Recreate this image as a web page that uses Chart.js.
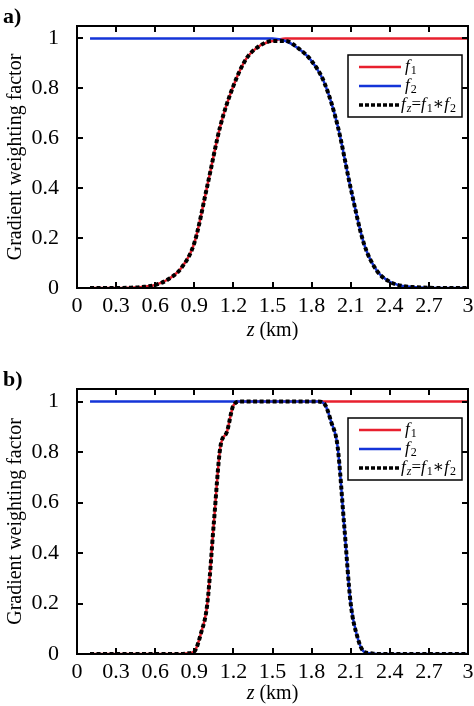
<!DOCTYPE html>
<html>
<head>
<meta charset="utf-8">
<script src="https://cdn.jsdelivr.net/npm/chart.js@4.4.1/dist/chart.umd.min.js"></script>
<style>
  html, body { margin: 0; padding: 0; background: #fff; }
  body { width: 474px; height: 706px; position: relative; overflow: hidden; }
  .panel { position: absolute; left: 0; width: 474px; }
  #panel-a { top: 0; height: 340px; }
  #panel-b { top: 363px; height: 343px; }
</style>
</head>
<body>
<div class="panel" id="panel-a"><canvas id="chart-a" width="474" height="340"></canvas></div>
<div class="panel" id="panel-b"><canvas id="chart-b" width="474" height="343"></canvas></div>
<script>
////////////////////////////////////////////////////////////////////////////////
// Data
////////////////////////////////////////////////////////////////////////////////

const xTicks = [0, 0.3, 0.6, 0.9, 1.2, 1.5, 1.8, 2.1, 2.4, 2.7, 3];
const yTicks = [0, 0.2, 0.4, 0.6, 0.8, 1];

// panel a) - smooth taper
const zA  = [0.1, 0.2, 0.3, 0.4, 0.5, 0.6, 0.7, 0.8, 0.9, 1.0, 1.1, 1.2, 1.3, 1.4, 1.5,
             1.6, 1.7, 1.8, 1.9, 2.0, 2.1, 2.2, 2.3, 2.4, 2.5, 2.6, 2.7, 2.8, 2.9, 3.0];
const f1A = [0, 0, 0, 0.001, 0.004, 0.012, 0.035, 0.08, 0.18, 0.41, 0.65, 0.81, 0.92, 0.97, 0.99,
             1, 1, 1, 1, 1, 1, 1, 1, 1, 1, 1, 1, 1, 1, 1];
const f2A = [1, 1, 1, 1, 1, 1, 1, 1, 1, 1, 1, 1, 1, 1, 1,
             0.99, 0.96, 0.91, 0.82, 0.65, 0.40, 0.18, 0.07, 0.025, 0.008, 0.003, 0.001, 0, 0, 0];
const fzA = [0, 0, 0, 0.001, 0.004, 0.012, 0.035, 0.08, 0.18, 0.41, 0.65, 0.81, 0.92, 0.97, 0.99,
             0.99, 0.96, 0.91, 0.82, 0.65, 0.40, 0.18, 0.07, 0.025, 0.008, 0.003, 0.001, 0, 0, 0];

// panel b) - sharp taper
const zB  = [0.1, 0.2, 0.3, 0.4, 0.5, 0.6, 0.7, 0.8,
             0.85, 0.9, 0.95, 1.0, 1.05, 1.1, 1.15, 1.2, 1.25, 1.3,
             1.4, 1.5, 1.6, 1.7, 1.8,
             1.85, 1.9, 1.95, 2.0, 2.05, 2.1, 2.15, 2.2, 2.25, 2.3,
             2.4, 2.5, 2.6, 2.7, 2.8, 2.9, 3.0];
const f1B = [0, 0, 0, 0, 0, 0, 0, 0,
             0.003, 0.01, 0.08, 0.2, 0.52, 0.82, 0.88, 0.985, 1, 1,
             1, 1, 1, 1, 1,
             1, 1, 1, 1, 1, 1, 1, 1, 1, 1,
             1, 1, 1, 1, 1, 1, 1];
const f2B = [1, 1, 1, 1, 1, 1, 1, 1,
             1, 1, 1, 1, 1, 1, 1, 1, 1, 1,
             1, 1, 1, 1, 1,
             1, 0.99, 0.92, 0.82, 0.51, 0.2, 0.07, 0.01, 0.003, 0,
             0, 0, 0, 0, 0, 0, 0];
const fzB = [0, 0, 0, 0, 0, 0, 0, 0,
             0.003, 0.01, 0.08, 0.2, 0.52, 0.82, 0.88, 0.985, 1, 1,
             1, 1, 1, 1, 1,
             1, 0.99, 0.92, 0.82, 0.51, 0.2, 0.07, 0.01, 0.003, 0,
             0, 0, 0, 0, 0, 0, 0];

////////////////////////////////////////////////////////////////////////////////
// Styling helpers
////////////////////////////////////////////////////////////////////////////////

const SERIF = '"Liberation Serif", "DejaVu Serif", serif';
const RED = '#e8202e';
const BLUE = '#1434d8';

function fmt(v) {
    return String(Math.round(v * 10) / 10);
}

// draw a run of text pieces: {t, it (italic), sub (subscript)}
function drawPieces(ctx, pieces, x, y) {
    let cx = x;
    pieces.forEach(p => {
        const size = p.sub ? 12 : 17;
        ctx.font = (p.it ? 'italic ' : '') + size + 'px ' + SERIF;
        const dy = p.sub ? 4 : 0;
        ctx.fillText(p.t, cx, y + dy);
        cx += ctx.measureText(p.t).width + (p.gap || 0);
    });
}

const legendItems = [
    { color: RED,    width: 2.5, dash: [],     pieces: [{t: 'f', it: true, gap: 1}, {t: '1', sub: true}] },
    { color: BLUE,   width: 2.5, dash: [],     pieces: [{t: 'f', it: true, gap: 1}, {t: '2', sub: true}] },
    { color: '#000', width: 3.5, dash: [4, 2], pieces: [
        {t: 'f', it: true, gap: 1}, {t: 'z', sub: true, it: true}, {t: '='},
        {t: 'f', it: true, gap: 1}, {t: '1', sub: true}, {t: '\u2217'},
        {t: 'f', it: true, gap: 1}, {t: '2', sub: true}] }
];

// frame, inward ticks, axis titles, panel letter and legend
const framePlugin = {
    id: 'frame',
    afterDraw(chart, args, opts) {
        const ctx = chart.ctx;
        const a = chart.chartArea;
        const xs = chart.scales.x;
        const ys = chart.scales.y;
        ctx.save();

        // inward ticks
        ctx.strokeStyle = '#000';
        ctx.lineWidth = 2;
        ctx.beginPath();
        xTicks.forEach(v => {
            const px = Math.round(xs.getPixelForValue(v));
            ctx.moveTo(px, a.bottom); ctx.lineTo(px, a.bottom - 6);
            ctx.moveTo(px, a.top);    ctx.lineTo(px, a.top + 6);
        });
        yTicks.forEach(v => {
            const py = Math.round(ys.getPixelForValue(v));
            ctx.moveTo(a.left, py);  ctx.lineTo(a.left + 6, py);
            ctx.moveTo(a.right, py); ctx.lineTo(a.right - 6, py);
        });
        ctx.stroke();
        ctx.strokeRect(a.left, a.top, a.right - a.left, a.bottom - a.top);

        // legend box
        const bx = 348, by = 55, bw = 114, bh = 62;
        ctx.fillStyle = '#fff';
        ctx.fillRect(bx, by, bw, bh);
        ctx.lineWidth = 1.5;
        ctx.strokeRect(bx, by, bw, bh);
        legendItems.forEach((it, i) => {
            const ly = by + 12 + i * 19;
            ctx.strokeStyle = it.color;
            ctx.lineWidth = it.width;
            ctx.setLineDash(it.dash);
            ctx.beginPath();
            ctx.moveTo(359, ly); ctx.lineTo(401, ly);
            ctx.stroke();
            ctx.setLineDash([]);
            ctx.fillStyle = '#000';
            ctx.textBaseline = 'middle';
            ctx.textAlign = 'left';
            drawPieces(ctx, it.pieces, i === 2 ? 401 : 405, ly);
        });

        // axis titles
        ctx.fillStyle = '#000';
        ctx.textBaseline = 'middle';
        ctx.textAlign = 'left';
        const cx = (a.left + a.right) / 2;
        ctx.font = 'italic 20px ' + SERIF;
        const zW = ctx.measureText('z').width;
        ctx.font = '20px ' + SERIF;
        const restW = ctx.measureText(' (km)').width;
        const tx = cx - (zW + restW) / 2;
        ctx.font = 'italic 20px ' + SERIF;
        ctx.fillText('z', tx, 331);
        ctx.font = '20px ' + SERIF;
        ctx.fillText(' (km)', tx + zW, 331);

        ctx.save();
        ctx.translate(16, (a.top + a.bottom) / 2);
        ctx.rotate(-Math.PI / 2);
        ctx.textAlign = 'center';
        ctx.font = '20px ' + SERIF;
        ctx.fillText('Gradient weighting factor', 0, 0);
        ctx.restore();

        // panel letter
        ctx.font = 'bold 22px ' + SERIF;
        ctx.textAlign = 'left';
        ctx.fillText(opts.letter, 3, 17);

        ctx.restore();
    }
};

function toPoints(z, f) {
    return z.map((x, i) => ({ x: x, y: f[i] }));
}

function makeChart(canvasId, letter, z, f1, f2, fz) {
    const tickFont = { family: SERIF, size: 22 };
    return new Chart(document.getElementById(canvasId), {
        type: 'line',
        data: {
            datasets: [
                // lower order is drawn on top
                { label: 'f1', data: toPoints(z, f1), borderColor: RED, borderWidth: 2.5, order: 3 },
                { label: 'f2', data: toPoints(z, f2), borderColor: BLUE, borderWidth: 2.5, order: 2 },
                { label: 'fz', data: toPoints(z, fz), borderColor: '#000', borderWidth: 4,
                  borderDash: [4, 2.5], borderCapStyle: 'butt', order: 1 }
            ]
        },
        options: {
            responsive: false,
            animation: false,
            devicePixelRatio: 1,
            layout: { padding: { top: 26, right: 6, left: 0, bottom: 0 } },
            elements: {
                point: { radius: 0 },
                line: { cubicInterpolationMode: 'monotone', fill: false }
            },
            plugins: {
                legend: { display: false },
                tooltip: { enabled: false },
                frame: { letter: letter }
            },
            scales: {
                x: {
                    type: 'linear',
                    min: 0,
                    max: 3,
                    afterBuildTicks: s => { s.ticks = xTicks.map(v => ({ value: v })); },
                    afterFit: s => { s.height = 52; },
                    grid: { display: false },
                    border: { display: false },
                    ticks: { font: tickFont, color: '#000', padding: -3, maxRotation: 0,
                             autoSkip: false, callback: v => fmt(v) }
                },
                y: {
                    min: 0,
                    max: 1.05,
                    afterBuildTicks: s => { s.ticks = yTicks.map(v => ({ value: v })); },
                    afterFit: s => { s.width = 77; },
                    grid: { display: false },
                    border: { display: false },
                    ticks: { font: tickFont, color: '#000', padding: 10, callback: v => fmt(v) }
                }
            }
        },
        plugins: [framePlugin]
    });
}

makeChart('chart-a', 'a)', zA, f1A, f2A, fzA);
makeChart('chart-b', 'b)', zB, f1B, f2B, fzB);
</script>
</body>
</html>
